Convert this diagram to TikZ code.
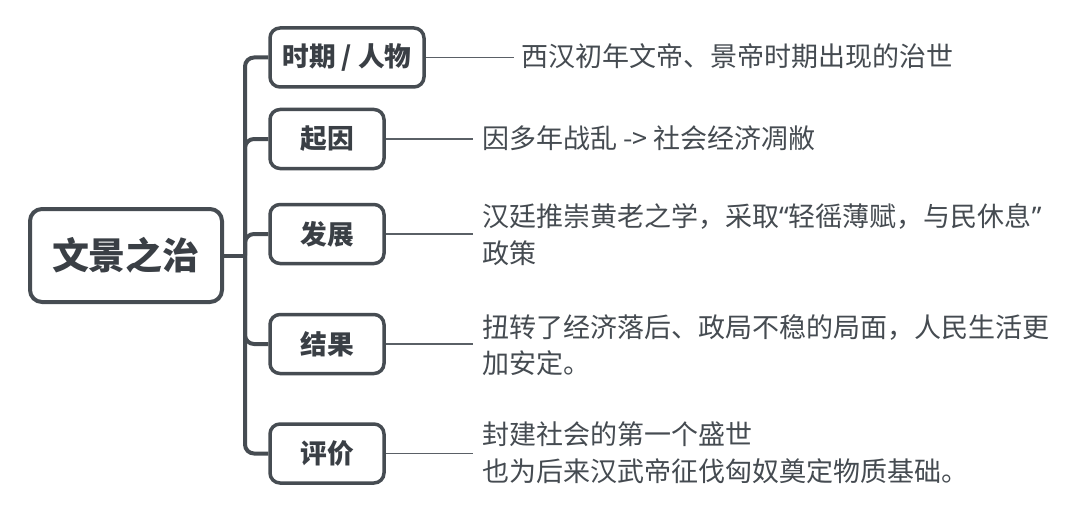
\documentclass[tikz,border=0pt]{standalone}
\usepackage{fontspec}
\setmainfont{Noto Sans CJK SC}
\newfontfamily\latinq{Noto Sans}
\definecolor{boxc}{HTML}{464C52}
\definecolor{labc}{HTML}{3A3F45}
\definecolor{descc}{HTML}{454B51}
\definecolor{linec}{HTML}{5A6066}
\tikzset{
  rootbox/.style={draw=boxc, line width=4pt, rounded corners=12pt, fill=white,
    minimum width=192pt, minimum height=93pt, inner sep=0pt, text=labc,
    font=\bfseries\fontsize{37}{40}\selectfont},
  childbox/.style={draw=boxc, line width=3.5pt, rounded corners=10pt, fill=white,
    minimum height=59pt, inner sep=0pt, text=labc,
    font=\bfseries\fontsize{26.7}{30}\selectfont},
  desc/.style={anchor=base west, inner sep=0pt, align=left, text=descc,
    font=\fontsize{27}{36.5}\selectfont},
  branch/.style={draw=boxc, line width=4pt, rounded corners=9pt},
  leaf/.style={draw=linec, line width=1.7pt},
}
\begin{document}
\begin{tikzpicture}[x=1pt,y=-1pt]
\useasboundingbox (0,0) rectangle (1080,519);
\fill[white] (0,0) rectangle (1080,519);
\coordinate (sp) at (245,255.5);
\node[rootbox] (root) at (126,255.5) {文景之治};
\node[childbox, minimum width=154pt] (c1) at (347,57.5) {时期 / 人物};
\node[childbox, minimum width=114pt] (c2) at (327,139) {起因};
\node[childbox, minimum width=114pt] (c3) at (327,234) {发展};
\node[childbox, minimum width=114pt] (c4) at (327,344) {结果};
\node[childbox, minimum width=114pt] (c5) at (327,453.5) {评价};
\draw[branch] (root.east) -- (sp);
\foreach \c in {c1,c2,c3,c4,c5}{
  \draw[branch] (sp) |- (\c.west);
}
% descriptions (multi-line nodes: base = last line)
\node[desc] (d1) at (521,66.8) {西汉初年文帝、景帝时期出现的治世};
\node[desc] (d2) at (482,148.5) {因多年战乱 -> 社会经济凋敝};
\node[desc] (d3) at (482,263.3) {汉廷推崇黄老之学，采取{\latinq “}轻徭薄赋，与民休息{\latinq ”}\\政策};
\node[desc] (d4) at (482,373.5) {扭转了经济落后、政局不稳的局面，人民生活更\\加安定。};
\node[desc] (d5) at (482,481.3) {封建社会的第一个盛世\\也为后来汉武帝征伐匈奴奠定物质基础。};
\draw[leaf] (c1.east) -- ([xshift=-7pt]c1.east -| d1.west);
\draw[leaf] (c2.east) -- ([xshift=-9pt]c2.east -| d2.west);
\draw[leaf] (c3.east) -- ([xshift=-9pt]c3.east -| d3.west);
\draw[leaf] (c4.east) -- ([xshift=-9pt]c4.east -| d4.west);
\draw[leaf] (c5.east) -- ([xshift=-9pt]c5.east -| d5.west);
\end{tikzpicture}
\end{document}
